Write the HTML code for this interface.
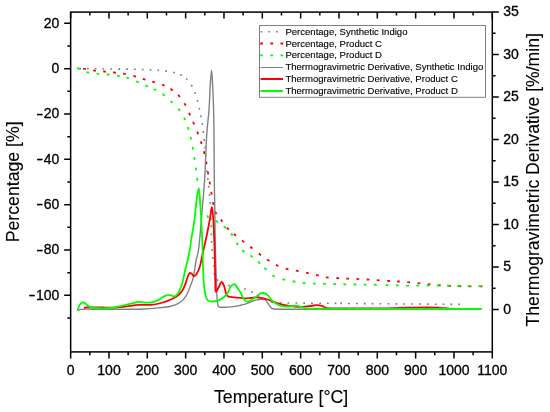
<!DOCTYPE html>
<html><head><meta charset="utf-8"><style>
html,body{margin:0;padding:0;background:#fff;}
svg{display:block;font-family:"Liberation Sans",Arial,sans-serif;fill:#000;}
text{stroke:#000;stroke-width:0.3px;}
</style></head><body>
<svg width="550" height="412" viewBox="0 0 550 412">
<defs><clipPath id="clip"><rect x="70.65" y="12.1" width="421.65" height="339.80"/></clipPath></defs>
<rect x="70.65" y="12.1" width="421.65" height="339.80" fill="none" stroke="#000" stroke-width="1.5"/>
<path d="M70.65,351.90v6.5 M70.65,12.10v6.5 M89.82,351.90v3.3 M89.82,12.10v3.3 M108.98,351.90v6.5 M108.98,12.10v6.5 M128.15,351.90v3.3 M128.15,12.10v3.3 M147.31,351.90v6.5 M147.31,12.10v6.5 M166.48,351.90v3.3 M166.48,12.10v3.3 M185.65,351.90v6.5 M185.65,12.10v6.5 M204.81,351.90v3.3 M204.81,12.10v3.3 M223.98,351.90v6.5 M223.98,12.10v6.5 M243.14,351.90v3.3 M243.14,12.10v3.3 M262.31,351.90v6.5 M262.31,12.10v6.5 M281.48,351.90v3.3 M281.48,12.10v3.3 M300.64,351.90v6.5 M300.64,12.10v6.5 M319.81,351.90v3.3 M319.81,12.10v3.3 M338.97,351.90v6.5 M338.97,12.10v6.5 M358.14,351.90v3.3 M358.14,12.10v3.3 M377.30,351.90v6.5 M377.30,12.10v6.5 M396.47,351.90v3.3 M396.47,12.10v3.3 M415.64,351.90v6.5 M415.64,12.10v6.5 M434.80,351.90v3.3 M434.80,12.10v3.3 M453.97,351.90v6.5 M453.97,12.10v6.5 M473.13,351.90v3.3 M473.13,12.10v3.3 M492.30,351.90v6.5 M492.30,12.10v6.5 M70.65,23.34h-6.5 M70.65,46.00h-3.3 M70.65,68.67h-6.5 M70.65,91.34h-3.3 M70.65,114.00h-6.5 M70.65,136.67h-3.3 M70.65,159.34h-6.5 M70.65,182.00h-3.3 M70.65,204.67h-6.5 M70.65,227.34h-3.3 M70.65,250.01h-6.5 M70.65,272.67h-3.3 M70.65,295.34h-6.5 M70.65,318.01h-3.3 M492.30,309.50h6.5 M492.30,288.25h3.3 M492.30,267.00h6.5 M492.30,245.75h3.3 M492.30,224.50h6.5 M492.30,203.25h3.3 M492.30,182.00h6.5 M492.30,160.75h3.3 M492.30,139.50h6.5 M492.30,118.25h3.3 M492.30,97.00h6.5 M492.30,75.75h3.3 M492.30,54.50h6.5 M492.30,33.25h3.3 M492.30,12.00h6.5" stroke="#000" stroke-width="1.5" fill="none"/>
<g font-size="14.0"><text transform="translate(70.65,374.7) scale(1,1.0)" text-anchor="middle">0</text><text transform="translate(108.98,374.7) scale(1,1.0)" text-anchor="middle">100</text><text transform="translate(147.31,374.7) scale(1,1.0)" text-anchor="middle">200</text><text transform="translate(185.65,374.7) scale(1,1.0)" text-anchor="middle">300</text><text transform="translate(223.98,374.7) scale(1,1.0)" text-anchor="middle">400</text><text transform="translate(262.31,374.7) scale(1,1.0)" text-anchor="middle">500</text><text transform="translate(300.64,374.7) scale(1,1.0)" text-anchor="middle">600</text><text transform="translate(338.97,374.7) scale(1,1.0)" text-anchor="middle">700</text><text transform="translate(377.30,374.7) scale(1,1.0)" text-anchor="middle">800</text><text transform="translate(415.64,374.7) scale(1,1.0)" text-anchor="middle">900</text><text transform="translate(453.97,374.7) scale(1,1.0)" text-anchor="middle">1000</text><text transform="translate(492.30,374.7) scale(1,1.0)" text-anchor="middle">1100</text><text transform="translate(59.3,27.54) scale(1,1.0)" text-anchor="end">20</text><text transform="translate(59.3,72.87) scale(1,1.0)" text-anchor="end">0</text><text transform="translate(59.3,118.20) scale(1,1.0)" text-anchor="end">20</text><text transform="translate(43.33,118.80) scale(1.5,1.0)" text-anchor="end">-</text><text transform="translate(59.3,163.54) scale(1,1.0)" text-anchor="end">40</text><text transform="translate(43.33,164.14) scale(1.5,1.0)" text-anchor="end">-</text><text transform="translate(59.3,208.87) scale(1,1.0)" text-anchor="end">60</text><text transform="translate(43.33,209.47) scale(1.5,1.0)" text-anchor="end">-</text><text transform="translate(59.3,254.21) scale(1,1.0)" text-anchor="end">80</text><text transform="translate(43.33,254.81) scale(1.5,1.0)" text-anchor="end">-</text><text transform="translate(59.3,299.54) scale(1,1.0)" text-anchor="end">100</text><text transform="translate(35.55,300.14) scale(1.5,1.0)" text-anchor="end">-</text><text transform="translate(503.3,313.70) scale(1,1.0)">0</text><text transform="translate(503.3,271.20) scale(1,1.0)">5</text><text transform="translate(503.3,228.70) scale(1,1.0)">10</text><text transform="translate(503.3,186.20) scale(1,1.0)">15</text><text transform="translate(503.3,143.70) scale(1,1.0)">20</text><text transform="translate(503.3,101.20) scale(1,1.0)">25</text><text transform="translate(503.3,58.70) scale(1,1.0)">30</text><text transform="translate(503.3,16.20) scale(1,1.0)">35</text></g>
<text x="281.1" y="402.7" font-size="17.75" style="stroke-width:0.1px" text-anchor="middle">Temperature [°C]</text>
<text transform="translate(18.7,181.8) rotate(-90)" font-size="17.7" style="stroke-width:0.1px" text-anchor="middle">Percentage [%]</text>
<text transform="translate(538.7,179.8) rotate(-90)" font-size="17.6" style="stroke-width:0.1px" text-anchor="middle">Thermogravimetric Derivative [%/min]</text>
<g fill="none" clip-path="url(#clip)">
<path d="M79.30,68.58l1.80,0.05M87.00,68.79l1.80,0.02M94.70,68.79l1.80,0.02M102.40,68.99l1.80,0.02M110.30,68.99l1.80,0.01M118.20,69.09l1.80,0.01M126.10,69.09l1.80,0.02M133.90,69.27l1.80,0.06M141.80,69.57l1.80,0.06M149.60,69.76l1.80,0.08M157.40,70.23l1.79,0.14M165.11,70.87l1.78,0.25M173.03,72.27l1.74,0.45M180.30,74.49l1.60,0.82M186.07,78.46l1.27,1.28M191.34,84.92l0.91,1.55M194.69,92.36l0.63,1.69M197.15,99.93l0.49,1.73M199.20,107.82l0.40,1.76M200.73,115.42l0.33,1.77M202.16,123.21l0.27,1.78M203.19,131.01l0.21,1.79M204.09,139.01l0.22,1.79M205.11,146.60l0.18,1.79M205.74,154.60l0.12,1.80M206.24,162.50l0.13,1.80M206.81,170.40l0.18,1.79M207.80,178.11l0.20,1.79M208.51,185.90l0.18,1.79M209.41,194.10l0.18,1.79M210.13,202.10l0.13,1.80M210.65,210.50l0.09,1.80M210.97,217.90l0.06,1.80M211.18,225.30l0.05,1.80M211.38,233.50l0.03,1.80M211.45,241.10l0.09,1.80M212.12,249.10l0.17,1.79M212.90,257.01l0.20,1.79M213.91,265.00l0.17,1.79M214.28,272.83l0.43,1.75M216.93,279.31l1.15,1.39M222.19,283.61l1.62,0.79M228.13,285.39l1.75,0.42M236.12,287.21l1.76,0.38M243.94,288.73l1.72,0.54M251.09,291.70l1.61,0.80M257.81,295.37l1.58,0.86M264.49,299.01l1.62,0.78M271.22,302.10l1.75,0.40M279.60,302.87l1.80,0.07M287.50,302.96l1.80,0.02M295.50,303.03l1.80,0.02M303.30,303.10l1.80,0.02M311.10,303.16l1.80,0.02M319.30,303.23l1.80,0.02M326.90,303.29l1.80,0.02M334.60,303.36l1.80,0.02M340.20,303.40l1.80,0.02M348.20,303.47l1.80,0.02M356.10,303.54l1.80,0.02M363.80,303.60l1.80,0.02M371.60,303.67l1.80,0.02M379.50,303.73l1.80,0.02M387.60,303.80l1.80,0.02M395.50,303.87l1.80,0.02M403.30,303.93l1.80,0.02M410.90,304.00l1.80,0.02M419.00,304.06l1.80,0.02M426.90,304.13l1.80,0.02M434.80,304.20l1.80,0.02M442.60,304.26l1.80,0.02M450.50,304.33l1.80,0.02M458.20,304.39l1.80,0.02" stroke="#808080" stroke-width="1.6"/>
<path d="M83.12,68.55l2.76,0.50M93.11,70.41l2.77,0.39M103.11,71.46l2.79,0.28M113.11,72.44l2.78,0.32M123.12,73.65l2.75,0.50M133.35,75.93l2.70,0.73M142.76,78.80l2.68,0.81M152.26,81.60l2.68,0.81M162.01,84.46l2.58,1.09M170.45,88.81l2.31,1.59M178.06,94.77l1.89,2.07M184.40,103.19l1.40,2.42M189.02,112.83l1.16,2.55M193.05,121.81l1.10,2.57M197.19,131.69l1.01,2.61M200.76,141.37l0.88,2.66M203.85,151.24l0.70,2.71M206.14,161.42l0.53,2.75M207.87,171.62l0.46,2.76M209.57,181.72l0.45,2.76M211.17,191.82l0.46,2.76M212.89,202.13l0.61,2.73M215.18,211.55l1.25,2.51M220.85,219.49l1.69,2.23M226.84,227.58l1.91,2.04M233.92,233.91l2.15,1.79M242.00,240.44l2.21,1.72M250.30,246.74l2.21,1.72M258.78,253.56l2.24,1.68M267.02,259.45l2.36,1.50M275.93,264.81l2.54,1.17M285.75,268.54l2.70,0.73M295.93,270.52l2.74,0.55M306.03,272.69l2.73,0.61M316.03,274.99l2.73,0.62M325.91,277.30l2.77,0.40M336.30,278.12l2.80,0.15M346.20,278.54l2.80,0.11M356.40,278.93l2.80,0.14M366.60,279.52l2.80,0.16M376.80,280.11l2.79,0.18M387.20,280.82l2.80,0.17M397.00,281.30l2.79,0.20M407.21,282.18l2.79,0.24M417.51,283.06l2.79,0.27M427.71,284.16l2.79,0.29M437.90,285.19l2.79,0.22M448.10,285.85l2.80,0.11M458.40,286.07l2.80,0.05M468.60,286.28l2.80,0.04M479.60,286.39l2.80,0.03" stroke="#ff0000" stroke-width="1.8"/>
<path d="M77.11,67.95l2.57,1.11M86.35,72.13l2.70,0.73M96.51,73.67l2.79,0.26M106.71,74.26l2.79,0.29M117.02,75.64l2.75,0.52M126.36,77.68l2.67,0.83M136.11,81.26l2.59,1.07M145.42,85.43l2.56,1.14M153.66,88.95l2.48,1.30M162.48,94.07l2.25,1.67M170.58,101.04l2.03,1.93M178.35,108.59l1.71,2.22M183.99,117.64l1.21,2.52M187.77,127.07l0.86,2.67M190.48,136.84l0.63,2.73M192.55,146.92l0.50,2.75M194.29,157.12l0.41,2.77M195.71,167.71l0.37,2.77M196.96,177.94l0.68,2.72M207.21,215.43l1.18,2.54M215.81,220.76l2.38,1.47M223.75,226.28l2.11,1.84M231.06,233.38l1.68,2.24M236.51,242.65l1.59,2.31M242.25,250.18l2.11,1.84M250.47,255.47l2.26,1.65M257.97,261.66l2.07,1.89M264.37,267.95l2.06,1.89M272.39,275.30l2.42,1.41M282.45,279.24l2.70,0.73M292.62,281.26l2.76,0.48M302.71,282.96l2.79,0.29M312.90,283.55l2.80,0.10M323.10,283.77l2.80,0.07M333.20,284.07l2.80,0.07M343.40,284.27l2.80,0.05M353.60,284.48l2.80,0.04M363.70,284.58l2.80,0.04M373.90,284.76l2.80,0.08M385.60,285.16l2.80,0.09M395.90,285.47l2.80,0.05M406.10,285.59l2.80,0.03M416.30,285.70l2.80,0.00M426.60,285.61l2.80,-0.01M436.80,285.59l2.80,0.01M447.00,285.68l2.80,0.04M457.20,285.87l2.80,0.05M467.50,286.09l2.80,0.03M478.40,286.10l2.80,0.00" stroke="#00ff00" stroke-width="1.8"/>
<path d="M77.60,310.50 C78.15,310.32 79.43,309.63 80.90,309.40 C82.37,309.17 82.77,309.12 86.40,309.10 C90.03,309.08 95.43,309.27 102.70,309.30 C109.97,309.33 123.10,309.35 130.00,309.30 C136.90,309.25 139.40,309.23 144.10,309.00 C148.80,308.77 153.75,308.37 158.20,307.90 C162.65,307.43 167.52,306.90 170.80,306.20 C174.08,305.50 175.78,304.83 177.90,303.70 C180.02,302.57 181.88,301.18 183.50,299.40 C185.12,297.62 186.43,295.32 187.60,293.00 C188.77,290.68 189.57,288.03 190.50,285.50 C191.43,282.97 192.25,282.05 193.20,277.80 C194.15,273.55 195.32,264.63 196.20,260.00 C197.08,255.37 197.78,255.00 198.50,250.00 C199.22,245.00 199.82,237.50 200.50,230.00 C201.18,222.50 201.92,213.33 202.60,205.00 C203.28,196.67 203.92,191.67 204.60,180.00 C205.28,168.33 205.97,146.67 206.70,135.00 C207.43,123.33 208.40,118.45 209.00,110.00 C209.60,101.55 209.87,90.92 210.30,84.30 C210.73,77.68 211.22,70.30 211.60,70.30 C211.98,70.30 212.27,77.68 212.60,84.30 C212.93,90.92 213.37,101.55 213.60,110.00 C213.83,118.45 213.88,123.33 214.00,135.00 C214.12,146.67 214.17,167.50 214.30,180.00 C214.43,192.50 214.62,198.33 214.80,210.00 C214.98,221.67 215.13,238.33 215.40,250.00 C215.67,261.67 216.10,271.67 216.40,280.00 C216.70,288.33 216.88,295.67 217.20,300.00 C217.52,304.33 217.83,304.80 218.30,306.00 C218.77,307.20 218.55,307.02 220.00,307.20 C221.45,307.38 224.50,307.23 227.00,307.10 C229.50,306.97 232.75,306.72 235.00,306.40 C237.25,306.08 238.68,305.62 240.50,305.20 C242.32,304.78 244.08,304.48 245.90,303.90 C247.72,303.32 249.58,302.37 251.40,301.70 C253.22,301.03 254.98,300.32 256.80,299.90 C258.62,299.48 260.85,299.18 262.30,299.20 C263.75,299.22 264.60,299.33 265.50,300.00 C266.40,300.67 266.78,301.95 267.70,303.20 C268.62,304.45 270.08,306.57 271.00,307.50 C271.92,308.43 271.70,308.52 273.20,308.80 C274.70,309.08 276.37,309.12 280.00,309.20 C283.63,309.28 278.33,309.28 295.00,309.30 C311.67,309.32 350.83,309.30 380.00,309.30 C409.17,309.30 455.00,309.30 470.00,309.30" stroke="#808080" stroke-width="1.4" stroke-linejoin="round"/>
<path d="M84.00,308.30 C84.40,308.13 85.10,307.47 86.40,307.30 C87.70,307.13 89.08,307.27 91.80,307.30 C94.52,307.33 99.07,307.45 102.70,307.50 C106.33,307.55 109.97,307.73 113.60,307.60 C117.23,307.47 121.77,306.98 124.50,306.70 C127.23,306.42 127.67,306.22 130.00,305.90 C132.33,305.58 134.98,304.98 138.50,304.80 C142.02,304.62 147.35,305.10 151.10,304.80 C154.85,304.50 157.95,303.78 161.00,303.00 C164.05,302.22 166.82,301.17 169.40,300.10 C171.98,299.03 174.38,298.12 176.50,296.60 C178.62,295.08 180.57,293.27 182.10,291.00 C183.63,288.73 184.75,285.42 185.70,283.00 C186.65,280.58 187.12,278.17 187.80,276.50 C188.48,274.83 189.10,273.42 189.80,273.00 C190.50,272.58 191.30,273.45 192.00,274.00 C192.70,274.55 193.18,276.38 194.00,276.30 C194.82,276.22 195.90,275.22 196.90,273.50 C197.90,271.78 198.98,269.58 200.00,266.00 C201.02,262.42 202.12,256.00 203.00,252.00 C203.88,248.00 204.63,245.00 205.30,242.00 C205.97,239.00 206.23,237.82 207.00,234.00 C207.77,230.18 209.08,223.62 209.90,219.10 C210.72,214.58 211.33,206.90 211.90,206.90 C212.47,206.90 212.93,214.22 213.30,219.10 C213.67,223.98 213.88,231.05 214.10,236.20 C214.32,241.35 214.45,244.37 214.60,250.00 C214.75,255.63 214.85,263.42 215.00,270.00 C215.15,276.58 215.25,286.00 215.50,289.50 C215.75,293.00 215.95,291.42 216.50,291.00 C217.05,290.58 217.92,288.50 218.80,287.00 C219.68,285.50 220.85,281.95 221.80,282.00 C222.75,282.05 223.78,285.37 224.50,287.30 C225.22,289.23 225.47,292.07 226.10,293.60 C226.73,295.13 226.95,295.88 228.30,296.50 C229.65,297.12 232.17,297.07 234.20,297.30 C236.23,297.53 238.57,297.73 240.50,297.90 C242.43,298.07 243.98,298.30 245.80,298.30 C247.62,298.30 249.57,298.05 251.40,297.90 C253.23,297.75 254.98,297.37 256.80,297.40 C258.62,297.43 260.48,297.75 262.30,298.10 C264.12,298.45 265.88,298.90 267.70,299.50 C269.52,300.10 271.38,301.02 273.20,301.70 C275.02,302.38 276.78,303.05 278.60,303.60 C280.42,304.15 282.28,304.62 284.10,305.00 C285.92,305.38 287.77,305.65 289.50,305.90 C291.23,306.15 292.45,306.35 294.50,306.50 C296.55,306.65 299.37,306.85 301.80,306.80 C304.23,306.75 306.67,306.47 309.10,306.20 C311.53,305.93 314.28,305.27 316.40,305.20 C318.52,305.13 320.13,305.37 321.80,305.80 C323.47,306.23 324.28,307.38 326.40,307.80 C328.52,308.22 325.57,308.22 334.50,308.30 C343.43,308.38 369.08,308.37 380.00,308.30 C390.92,308.23 392.33,308.05 400.00,307.90 C407.67,307.75 419.33,307.42 426.00,307.40 C432.67,307.38 436.17,307.60 440.00,307.80 C443.83,308.00 445.67,308.40 449.00,308.60 C452.33,308.80 454.67,308.93 460.00,309.00 C465.33,309.07 477.50,309.00 481.00,309.00" stroke="#ff0000" stroke-width="1.8" stroke-linejoin="round"/>
<path d="M77.60,310.50 C77.97,309.53 78.92,306.03 79.80,304.70 C80.68,303.37 81.80,302.58 82.90,302.50 C84.00,302.42 85.28,303.47 86.40,304.20 C87.52,304.93 88.33,306.27 89.60,306.90 C90.87,307.53 91.82,307.73 94.00,308.00 C96.18,308.27 99.80,308.50 102.70,308.50 C105.60,308.50 108.67,308.35 111.40,308.00 C114.13,307.65 116.00,307.08 119.10,306.40 C122.20,305.72 126.77,304.63 130.00,303.90 C133.23,303.17 136.15,302.23 138.50,302.00 C140.85,301.77 142.00,302.42 144.10,302.50 C146.20,302.58 148.75,302.90 151.10,302.50 C153.45,302.10 156.08,301.08 158.20,300.10 C160.32,299.12 162.17,297.48 163.80,296.60 C165.43,295.72 166.58,294.92 168.00,294.80 C169.42,294.68 171.12,295.65 172.30,295.90 C173.48,296.15 174.05,296.88 175.10,296.30 C176.15,295.72 177.43,294.47 178.60,292.40 C179.77,290.33 181.05,287.42 182.10,283.90 C183.15,280.38 183.97,275.28 184.90,271.30 C185.83,267.32 186.88,263.55 187.70,260.00 C188.52,256.45 189.22,253.40 189.80,250.00 C190.38,246.60 190.48,244.17 191.20,239.60 C191.92,235.03 193.20,229.13 194.10,222.60 C195.00,216.07 195.83,206.13 196.60,200.40 C197.37,194.67 198.13,188.20 198.70,188.20 C199.27,188.20 199.55,194.67 200.00,200.40 C200.45,206.13 201.03,216.07 201.40,222.60 C201.77,229.13 202.00,235.03 202.20,239.60 C202.40,244.17 202.45,244.88 202.60,250.00 C202.75,255.12 202.83,264.08 203.10,270.30 C203.37,276.52 203.63,282.60 204.20,287.30 C204.77,292.00 205.70,296.22 206.50,298.50 C207.30,300.78 208.03,300.48 209.00,301.00 C209.97,301.52 210.83,301.65 212.30,301.60 C213.77,301.55 216.18,301.22 217.80,300.70 C219.42,300.18 220.48,299.55 222.00,298.50 C223.52,297.45 225.55,296.23 226.90,294.40 C228.25,292.57 229.02,289.20 230.10,287.50 C231.18,285.80 232.50,284.62 233.40,284.20 C234.30,283.78 234.65,284.15 235.50,285.00 C236.35,285.85 237.67,288.07 238.50,289.30 C239.33,290.53 239.65,290.83 240.50,292.40 C241.35,293.97 242.70,297.23 243.60,298.70 C244.50,300.17 244.97,300.78 245.90,301.20 C246.83,301.62 247.75,301.75 249.20,301.20 C250.65,300.65 252.78,299.18 254.60,297.90 C256.42,296.62 258.55,294.32 260.10,293.50 C261.65,292.68 262.63,292.72 263.90,293.00 C265.17,293.28 266.33,293.93 267.70,295.20 C269.07,296.47 270.28,298.97 272.10,300.60 C273.92,302.23 276.60,304.03 278.60,305.00 C280.60,305.97 282.35,306.15 284.10,306.40 C285.85,306.65 286.90,306.58 289.10,306.50 C291.30,306.42 294.88,305.70 297.30,305.90 C299.72,306.10 300.42,307.25 303.60,307.70 C306.78,308.15 303.67,308.42 316.40,308.60 C329.13,308.78 352.43,308.73 380.00,308.80 C407.57,308.87 464.83,308.97 481.80,309.00" stroke="#00ff00" stroke-width="1.8" stroke-linejoin="round"/>
</g>
<rect x="259.5" y="25.5" width="226.00" height="71.80" fill="#fff" stroke="#808080" stroke-width="1"/>
<path d="M260.60,31.80l1.80,0.00M268.30,31.80l1.80,0.00M276.20,31.80l1.80,0.00" stroke="#808080" stroke-width="1.6"/>
<text x="285.4" y="34.90" font-size="9.55" style="stroke-width:0.12px">Percentage, Synthetic Indigo</text>
<path d="M260.10,43.50l2.80,0.00M270.30,43.50l2.80,0.00M280.50,43.50l2.80,0.00" stroke="#ff0000" stroke-width="1.8"/>
<text x="285.4" y="46.68" font-size="9.55" style="stroke-width:0.12px">Percentage, Product C</text>
<path d="M260.10,55.40l2.80,0.00M270.30,55.40l2.80,0.00M280.50,55.40l2.80,0.00" stroke="#00ff00" stroke-width="1.8"/>
<text x="285.4" y="58.46" font-size="9.55" style="stroke-width:0.12px">Percentage, Product D</text>
<path d="M260.5,67.5H283" stroke="#808080" stroke-width="1"/>
<text x="285.4" y="70.24" font-size="9.55" style="stroke-width:0.12px">Thermogravimetric Derivative, Synthetic Indigo</text>
<path d="M260.5,79.0H283" stroke="#ff0000" stroke-width="2"/>
<text x="285.4" y="82.02" font-size="9.55" style="stroke-width:0.12px">Thermogravimetric Derivative, Product C</text>
<path d="M260.5,91.0H283" stroke="#00ff00" stroke-width="2"/>
<text x="285.4" y="93.80" font-size="9.55" style="stroke-width:0.12px">Thermogravimetric Derivative, Product D</text>
</svg>
</body></html>
